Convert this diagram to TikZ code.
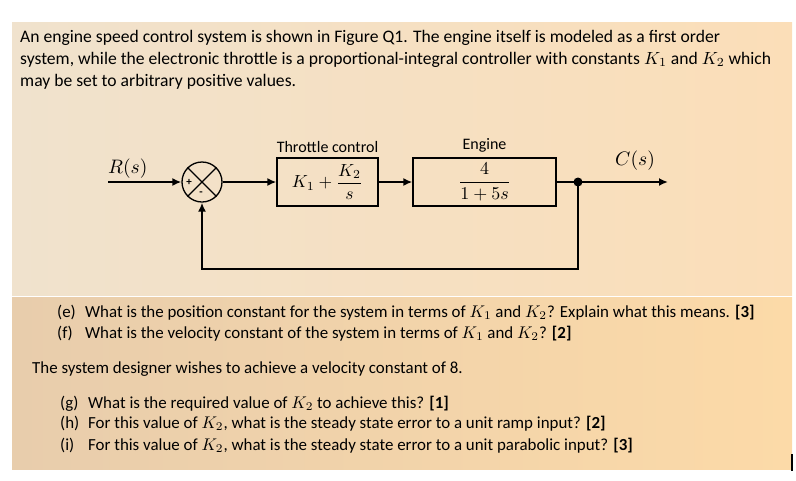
\documentclass[tikz,border=0pt]{standalone}
\usepackage{graphicx}
\usepackage{fontspec}
\setmainfont{Carlito}
\usetikzlibrary{calc}
\usetikzlibrary{arrows.meta}
\usetikzlibrary{positioning}

\definecolor{paperA}{RGB}{240,226,205}
\definecolor{paperB}{RGB}{251,222,184}
\definecolor{paperC}{RGB}{232,205,172}
\definecolor{paperD}{RGB}{252,218,168}

\newcommand{\qmarks}[1]{\textbf{[#1]}}
% math set at 10pt and scaled up
\newcommand{\bigmath}[2]{\scalebox{#1}{\fontsize{10}{12}\selectfont$#2$}}
\newcommand{\tK}[1]{\bigmath{1.76}{K_#1}}
\newcommand{\pK}[1]{\bigmath{1.69}{K_#1}}

\tikzset{
  qline/.style={anchor=base west, inner sep=0pt, font=\fontsize{17.6}{21}\selectfont},
  pline/.style={anchor=base west, inner sep=0pt, font=\fontsize{16.9}{20}\selectfont},
  block/.style={draw, line width=1.3pt, minimum height=48pt, inner sep=0pt},
  blocktitle/.style={font=\fontsize{16}{18}\selectfont, inner sep=0pt},
  sig/.style={line width=2.2pt, -{Latex[length=9pt,width=8pt]}},
  wire/.style={line width=2.2pt},
  siglbl/.style={anchor=base west, inner sep=0pt},
}

\begin{document}
\begin{tikzpicture}[x=1pt,y=-1pt]
\useasboundingbox (0,0) rectangle (796,480);
\shade[left color=paperA, right color=paperB] (12,22) rectangle (792,295);
\shade[left color=paperC, right color=paperD] (12,297) rectangle (792,469);
\draw[line width=1.5pt] (792,454) -- (792,471);

% question text
\node[qline] (t1) at (20,42) {An engine speed control system is shown in Figure Q1. The engine itself is modeled as a first order};
\node[qline] (t2) at (20,64) {system, while the electronic throttle is a proportional-integral controller with constants \tK{1} and \tK{2} which};
\node[qline] (t3) at (20,86) {may be set to arbitrary positive values.};

% block diagram
\coordinate (rin) at (108,182);
\node[circle, draw, line width=1.3pt, minimum size=40pt, inner sep=0pt] (sum) at (202,182) {};
\draw[line width=1.3pt] (sum.north west) -- (sum.south east) (sum.north east) -- (sum.south west);
\node[font=\fontsize{11}{11}\selectfont\bfseries, inner sep=0pt] (plus) at ($(sum.center)+(-13,0)$) {+};
\node[font=\fontsize{11}{11}\selectfont\bfseries, inner sep=0pt] (minus) at ($(sum.center)+(-1,12)$) {-};
\node[block, minimum width=101pt] (thr) at (327.5,182) {\bigmath{1.75}{K_1+\displaystyle\frac{K_2}{s}}};
\node[block, minimum width=143pt] (eng) at (484.5,182) {\bigmath{1.8}{\displaystyle\frac{\ 4\ }{1+5s}}};
\node[blocktitle, above=5pt of thr] (thrlbl) {Throttle control};
\node[blocktitle, above=5pt of eng] (englbl) {Engine};
\coordinate (tap) at (578,182);
\coordinate (cout) at (668,182);
\coordinate (fb) at (578,269);
\node[siglbl] (rlbl) at (108,173) {\bigmath{1.95}{R(s)}};
\node[siglbl] (clbl) at (615,165) {\bigmath{1.95}{C(s)}};

\draw[sig] (rin) -- (sum);
\draw[sig] (sum) -- (thr);
\draw[sig] (thr) -- (eng);
\draw[wire] (eng) -- (tap);
\draw[sig] (tap) -- (cout);
\draw[sig] (tap) -- (fb) -| (sum);
\fill (tap) circle (4.5pt);

% part questions
\node[pline] (le) at (57,317) {(e)};
\node[pline] (qe) at (85,317) {What is the position constant for the system in terms of \pK{1} and \pK{2}? Explain what this means. \qmarks{3}};
\node[pline] (lf) at (57,338) {(f)};
\node[pline] (qf) at (85,338) {What is the velocity constant of the system in terms of \pK{1} and \pK{2}? \qmarks{2}};
\node[pline] (ts) at (32,373) {The system designer wishes to achieve a velocity constant of 8.};
\node[pline] (lg) at (60,408) {(g)};
\node[pline] (qg) at (88,408) {What is the required value of \pK{2} to achieve this? \qmarks{1}};
\node[pline] (lh) at (60,428) {(h)};
\node[pline] (qh) at (88,428) {For this value of \pK{2}, what is the steady state error to a unit ramp input? \qmarks{2}};
\node[pline] (li) at (60,450) {(i)};
\node[pline] (qi) at (88,450) {For this value of \pK{2}, what is the steady state error to a unit parabolic input? \qmarks{3}};
\end{tikzpicture}
\end{document}
